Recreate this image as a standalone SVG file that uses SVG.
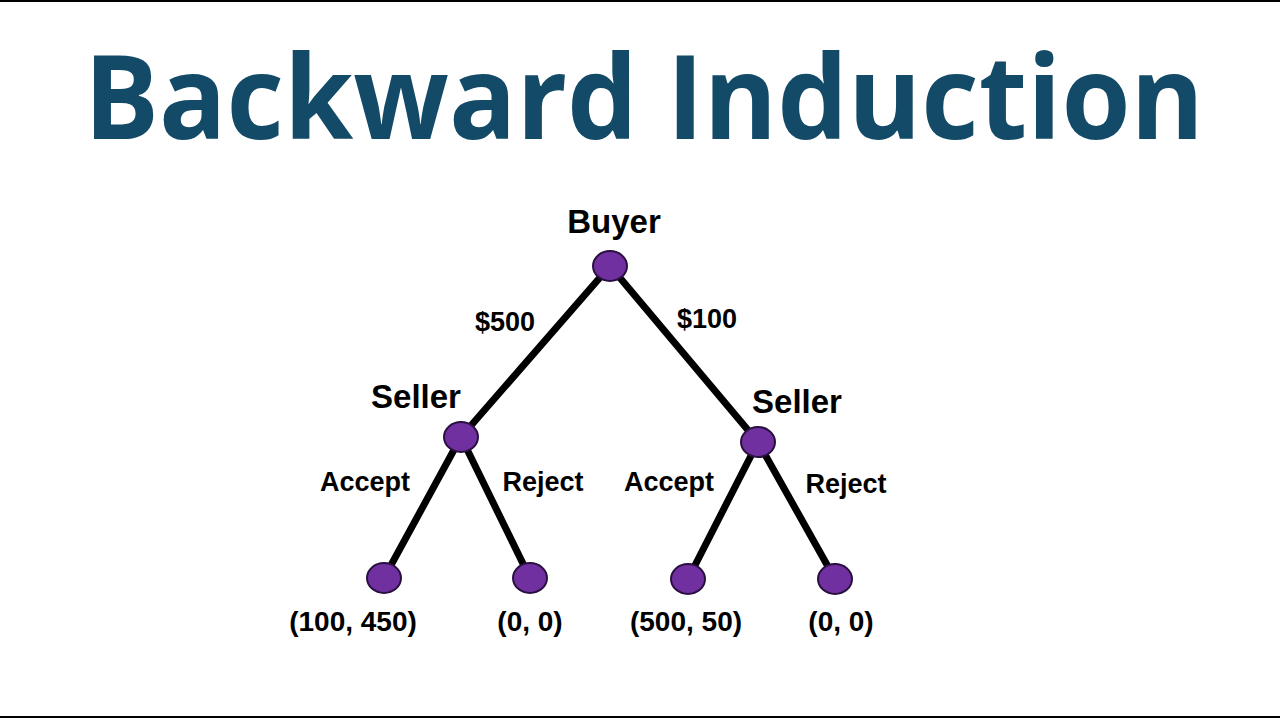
<svg xmlns="http://www.w3.org/2000/svg" width="1280" height="720" viewBox="0 0 1280 720">
<style>
.n{fill:#7030a0;stroke:#2a1040;stroke-width:2}
.e{stroke:#000;stroke-width:7;stroke-linecap:round}
.t{font-family:"Liberation Sans",Arial,sans-serif;font-weight:bold;fill:#000;text-anchor:middle}
</style>
<rect width="1280" height="720" fill="#fff"/>
<line x1="0" y1="1" x2="1280" y2="1" stroke="#000" stroke-width="2"/>
<line x1="0" y1="717" x2="1280" y2="717" stroke="#000" stroke-width="2"/>
<text x="644" y="139" font-family="'Open Sans',sans-serif" font-weight="bold" font-size="116" fill="#134a67" text-anchor="middle" textLength="1120" lengthAdjust="spacingAndGlyphs">Backward Induction</text>
<g id="connectors">
<line class="e" x1="610" y1="266" x2="461" y2="437"/>
<line class="e" x1="610" y1="266" x2="758" y2="442"/>
<line class="e" x1="461" y1="437" x2="384" y2="578"/>
<line class="e" x1="461" y1="437" x2="530" y2="578"/>
<line class="e" x1="758" y1="442" x2="688" y2="579"/>
<line class="e" x1="758" y1="442" x2="835" y2="579"/>
</g>
<g class="t" font-size="27">
<text x="505" y="331">$500</text>
<text x="707" y="328">$100</text>
<text x="365" y="491">Accept</text>
<text x="543" y="491">Reject</text>
<text x="669" y="491">Accept</text>
<text x="846" y="493">Reject</text>
</g>
<g id="buyer"><ellipse class="n" cx="610" cy="266" rx="17" ry="15"/><text class="t" x="614" y="233" font-size="33">Buyer</text></g>
<g id="sellerL"><ellipse class="n" cx="461" cy="437" rx="17" ry="15"/><text class="t" x="416" y="408" font-size="33">Seller</text></g>
<g id="sellerR"><ellipse class="n" cx="758" cy="442" rx="17" ry="15"/><text class="t" x="797" y="413" font-size="33">Seller</text></g>
<g id="leaf1"><ellipse class="n" cx="384" cy="578" rx="17" ry="15"/><text class="t" x="353" y="631" font-size="28">(100, 450)</text></g>
<g id="leaf2"><ellipse class="n" cx="530" cy="578" rx="17" ry="15"/><text class="t" x="530" y="631" font-size="28">(0, 0)</text></g>
<g id="leaf3"><ellipse class="n" cx="688" cy="579" rx="17" ry="15"/><text class="t" x="686" y="631" font-size="28">(500, 50)</text></g>
<g id="leaf4"><ellipse class="n" cx="835" cy="579" rx="17" ry="15"/><text class="t" x="841" y="631" font-size="28">(0, 0)</text></g>
</svg>
